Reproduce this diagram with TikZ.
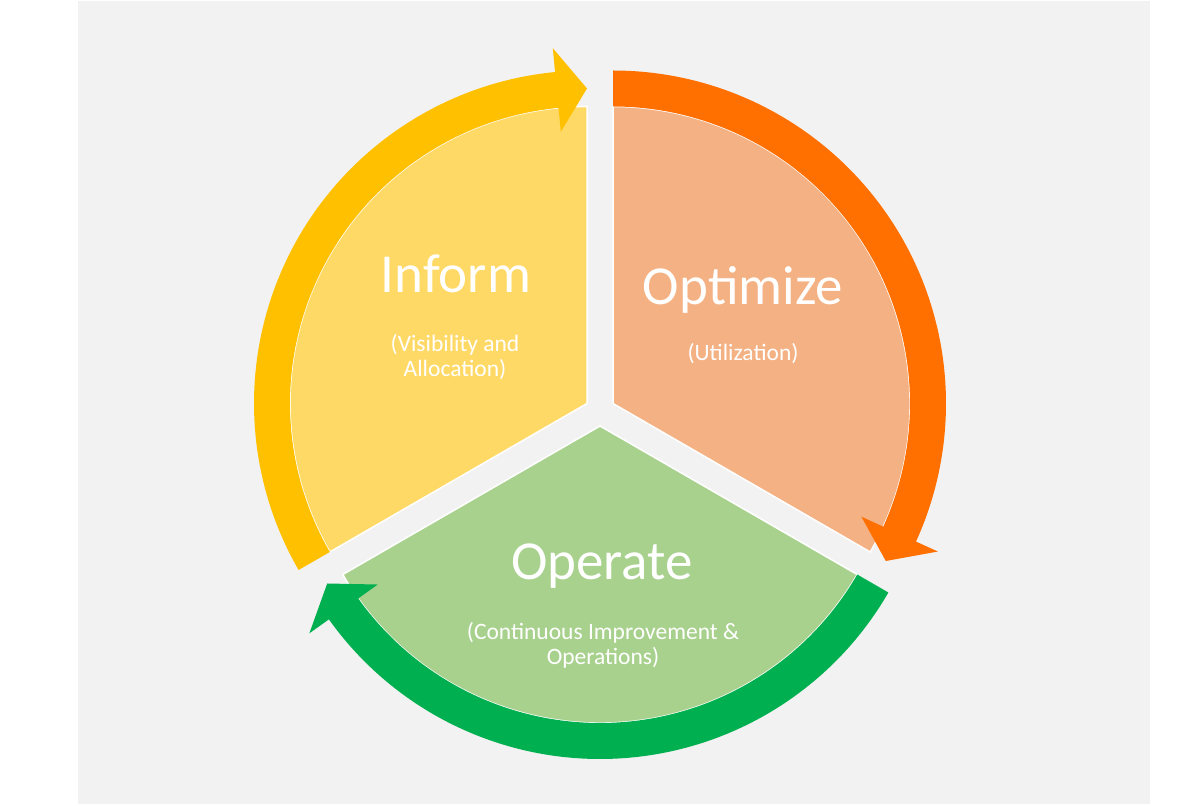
\documentclass[tikz,border=0pt]{standalone}
\usepackage{fontspec}
\setmainfont{Carlito}
\usetikzlibrary{calc}

\definecolor{canvas}{HTML}{F2F2F2}
\definecolor{informfill}{HTML}{FFD966}
\definecolor{informring}{HTML}{FFC000}
\definecolor{optfill}{HTML}{F4B183}
\definecolor{optring}{HTML}{FF7000}
\definecolor{operfill}{HTML}{A9D18E}
\definecolor{operring}{HTML}{00B050}

\tikzset{
  sector/.style={draw=white, line width=1.5pt, line join=miter},
  title/.style={text=white, font=\fontsize{55}{60}\selectfont, anchor=base, inner sep=0pt},
  subtitle/.style={text=white, font=\fontsize{23.5}{25}\selectfont, anchor=base, inner sep=0pt, align=center},
}

% radii of the pie and of the arrow band
\def\R{297}
\def\Ro{333}
\def\Rm{315}
\def\Hi{273}
\def\Ho{357}

\begin{document}
\begin{tikzpicture}[x=1pt,y=1pt]
  \useasboundingbox (0,0) rectangle (1200,806);
  \fill[white] (0,0) rectangle (1200,806);
  \fill[canvas] (78,2) rectangle (1150,805);

  % exploded sector centres
  \coordinate (CI) at (587,402.5);
  \coordinate (CO) at (613,402.5);
  \coordinate (CG) at (600,380);

  % pie sectors
  \filldraw[sector, fill=informfill] (CI) -- ($(CI)+(90:\R)$) arc[start angle=90, end angle=210, radius=\R] -- cycle;
  \filldraw[sector, fill=optfill] (CO) -- ($(CO)+(-30:\R)$) arc[start angle=-30, end angle=90, radius=\R] -- cycle;
  \filldraw[sector, fill=operfill] (CG) -- ($(CG)+(210:\R)$) arc[start angle=210, end angle=330, radius=\R] -- cycle;

  % curved arrows
  \fill[informring] ($(CI)+(210:\Ro)$) arc[start angle=210, end angle=95.5, radius=\Ro]
    -- ($(CI)+(95.5:\Ho)$) -- ($(CI)+(90:\Rm)$) -- ($(CI)+(95.5:\Hi)$)
    -- ($(CI)+(95.5:\R)$) arc[start angle=95.5, end angle=210, radius=\R] -- cycle;
  \fill[optring] ($(CO)+(90:\Ro)$) arc[start angle=90, end angle=-24.5, radius=\Ro]
    -- ($(CO)+(-24.5:\Ho)$) -- ($(CO)+(-30:\Rm)$) -- ($(CO)+(-24.5:\Hi)$)
    -- ($(CO)+(-24.5:\R)$) arc[start angle=-24.5, end angle=90, radius=\R] -- cycle;
  \fill[operring] ($(CG)+(-30:\Ro)$) arc[start angle=-30, end angle=-144.5, radius=\Ro]
    -- ($(CG)+(-144.5:\Ho)$) -- ($(CG)+(-150:\Rm)$) -- ($(CG)+(-144.5:\Hi)$)
    -- ($(CG)+(-144.5:\R)$) arc[start angle=-144.5, end angle=-30, radius=\R] -- cycle;

  % labels (multi-line subtitles sit on the baseline of their last line)
  \node[title] (tinform) at (456,513) {Inform};
  \node[subtitle] (sinform) at (455,429) {(Visibility and\\Allocation)};
  \node[title] (topt) at (743,501) {Optimize};
  \node[subtitle] (sopt) at (743,445) {(Utilization)};
  \node[title] (toper) at (602,226) {Operate};
  \node[subtitle] (soper) at (603,141) {(Continuous Improvement \&\\Operations)};
\end{tikzpicture}
\end{document}
